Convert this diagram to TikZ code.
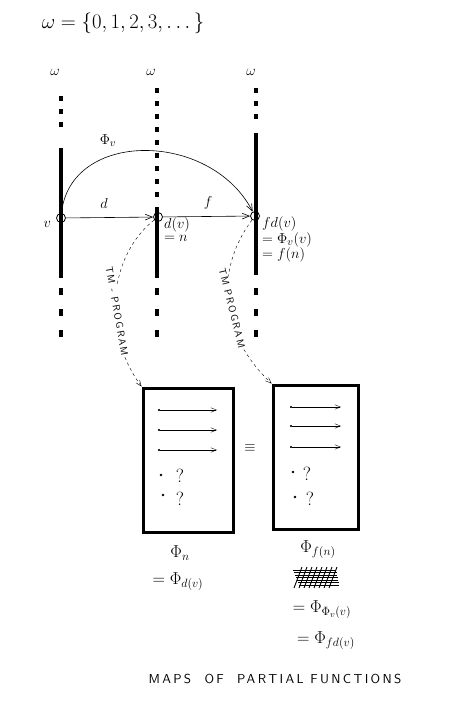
\documentclass[tikz,border=0pt]{standalone}
\usepackage{amsmath}
\usepackage{amssymb}
\usepackage{fontspec}
\usepackage{tikz}
\usetikzlibrary{positioning}
\usetikzlibrary{arrows.meta}
\newfontfamily\spacedsans{lmsans10-regular}[Extension=.otf, LetterSpace=18]

\begin{document}
\begin{tikzpicture}[
			x=1pt, y=-1pt,
			solidline/.style = {line width=3.5pt},
			dashline/.style  = {line width=3.5pt, dash pattern=on 5pt off 8pt},
			lowdash/.style   = {line width=3.8pt, dash pattern=on 7pt off 14pt},
			vpoint/.style    = {circle, draw, thick, minimum size=9pt, inner sep=0pt},
			map/.style       = {-{Straight Barb[length=2.5mm,width=2mm]}, semithick},
			tmarrow/.style   = {-{Straight Barb[length=2mm,width=1.6mm]}, dashed, thin},
			progbox/.style   = {draw, line width=3pt, minimum height=144pt, inner sep=0pt},
			pair/.style      = {{Circle[length=2pt]}-{Straight Barb[length=2mm,width=1.6mm]}, thin},
			hand/.style      = {font=\fontsize{15}{16}\selectfont, inner sep=1pt},
			phistyle/.style  = {font=\fontsize{18}{20}\selectfont, inner sep=1pt},
			tmlabel/.style   = {font=\spacedsans\fontsize{10}{11}\selectfont, fill=white, inner sep=0.5pt}
			]
			\useasboundingbox (0,0) rectangle (474,708);

			% the set omega
			\node[hand, font=\fontsize{21}{22}\selectfont] (omegaset) at (123,23) {$\omega=\{0,1,2,3,\dots\}$};
			\foreach \x/\n in {55/1, 151/2, 251/3}
			\node[hand] (omega\n) at (\x,72) {$\omega$};

			% three copies of omega
			\draw[dashline] (61,96) -- (61,133);
			\draw[dashline] (157,88) -- (157,200);
			\draw[dashline] (256,88) -- (256,124);
			\draw[solidline] (61,148) -- (61,278);
			\draw[solidline] (157,207) -- (157,278);
			\draw[solidline, line width=4.5pt] (256,133) -- (256,275);
			\foreach \x in {61, 157, 256}
			\draw[lowdash] (\x,288) -- (\x,338);

			% points and maps
			\node[vpoint] (v)   at (61,218)  {};
			\node[vpoint] (dv)  at (158,217) {};
			\node[vpoint] (fdv) at (255,216) {};

			\draw[map] (v) -- (dv);
			\draw[map] (dv) -- (fdv);
			\draw[map] (v) .. controls (70,130) and (210,130) .. (fdv);

			\node[hand] (dlab)   at (104,204) {$d$};
			\node[hand] (flab)   at (208,203) {$f$};
			\node[hand] (philab) at (108,141) {$\Phi_v$};
			\node[hand, left=4pt of v, yshift=-6pt] (vlab) {$v$};
			\node[hand, anchor=north west, align=left, font=\fontsize{15}{13}\selectfont] (dvlab) at (163,216) {$d(v)$\\$=n$};
			\node[hand, anchor=north west, align=left, font=\fontsize{15}{14}\selectfont] (fdvlab) at (261,216) {$fd(v)$\\$=\Phi_v(v)$\\$=f(n)$};

			% programs
			\node[progbox, minimum width=90pt] (prog1) at (188,460) {};
			\node[progbox, minimum width=85pt] (prog2) at (315.5,457) {};

			\draw[tmarrow] (dv) .. controls (110,255) and (100,330) .. (prog1.north west);
			\draw[tmarrow] (fdv) .. controls (218,265) and (215,330) .. (prog2.north west);
			\node[tmlabel, rotate=-80] (tm1) at (117,311) {TM - PROGRAM};
			\node[tmlabel, rotate=-76] (tm2) at (232,308) {TM PROGRAM};

			\foreach \y in {410, 430, 450}
			\draw[pair] (158,\y) -- (217,\y);
			\foreach \y in {407, 426, 447}
			\draw[pair] (290,\y) -- (341,\y);
			\foreach \x/\y in {161/475, 163/495, 293/472, 295/497}
			\fill (\x,\y) circle (1.3pt);
			\foreach \x/\y/\n in {180/476/1, 180/499/2, 307/474/3, 310/499/4}
			\node[font=\fontsize{19}{20}\selectfont, inner sep=0pt] (q\n) at (\x,\y) {?};

			\node[hand] (equiv) at (250,448) {$\equiv$};

			% the partial functions
			\node[phistyle] (phin)   at (180,553) {$\Phi_n$};
			\node[phistyle] (phidv)  at (178,582) {$=\Phi_{d(v)}$};
			\node[phistyle] (phifn)  at (318,550) {$\Phi_{f(n)}$};
			\node[phistyle] (phiphi) at (322,610) {$=\Phi_{\Phi_v(v)}$};
			\node[phistyle] (phifdv) at (326,641) {$=\Phi_{fd(v)}$};

			% crossed out
			\foreach \y in {570, 572.5, ..., 586}
			\draw[line width=0.9pt] (293+0.4*\y-228,\y) -- (336+0.2*\y-114,\y);
			\foreach \x in {298, 303, ..., 336}
			\draw[line width=0.9pt] (\x-4,588) -- (\x+4,567);

			\node[font=\spacedsans\fontsize{13}{14}\selectfont, inner sep=1pt] (title) at (275,679) {MAPS\ \ OF\ \ PARTIAL\ FUNCTIONS};
		\end{tikzpicture}
\end{document}
